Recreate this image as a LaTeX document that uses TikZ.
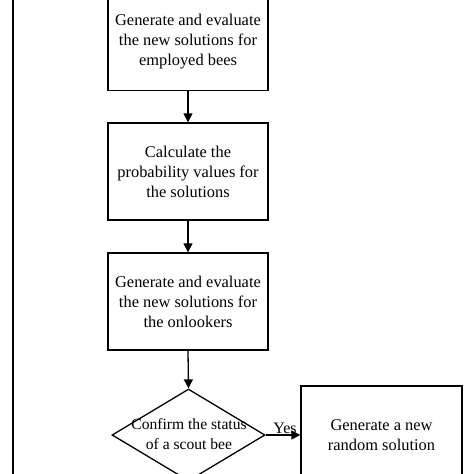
\documentclass[tikz,border=0pt]{standalone}
\usepackage{fontspec}
\setmainfont{Liberation Serif}
\usetikzlibrary{shapes.geometric,arrows.meta}
\begin{document}
\begin{tikzpicture}[x=1pt,y=1pt,
  box/.style={draw,line width=1.3pt,minimum width=160pt,minimum height=97pt,inner sep=0pt,align=center,
    font=\fontsize{16.4}{20}\selectfont},
  dia/.style={draw,diamond,line width=1.3pt,minimum width=153pt,minimum height=92pt,inner sep=0pt},
  txt/.style={align=center,inner sep=0pt,font=\fontsize{15.6}{19.5}\selectfont},
  arr/.style={line width=1.3pt,-{Triangle[width=9pt,length=9pt]}},
  loop/.style={line width=1.1pt}]
\useasboundingbox (0,0) rectangle (474,-474);
\node[box] (b1) at (188,-42) {Generate and evaluate\\the new solutions for\\employed bees};
\node[box] (b2) at (188,-171.5) {Calculate the\\probability values for\\the solutions};
\node[box] (b3) at (188,-301.5) {Generate and evaluate\\the new solutions for\\the onlookers};
\node[dia] (dec) at (188.5,-435) {};
\node[txt] (dect) at (189,-434) {Confirm the status\\of a scout bee};
\node[box,minimum width=161pt,minimum height=98pt] (b4) at (381.5,-435) {Generate a new\\random solution};
\coordinate (lt) at (13,0);
\coordinate (lb) at (13,-474);
\draw[loop] (lt) -- (lb);
\draw[arr] (b1.south) -- (b2.north);
\draw[arr] (b2.south) -- (b3.north);
\draw[arr] (b3.south) -- (dec.north);
\draw[arr] (dec.east) -- (b4.west) node[midway,above,xshift=2pt,inner sep=1pt,font=\fontsize{16}{20}\selectfont] {Yes};
\end{tikzpicture}
\end{document}
